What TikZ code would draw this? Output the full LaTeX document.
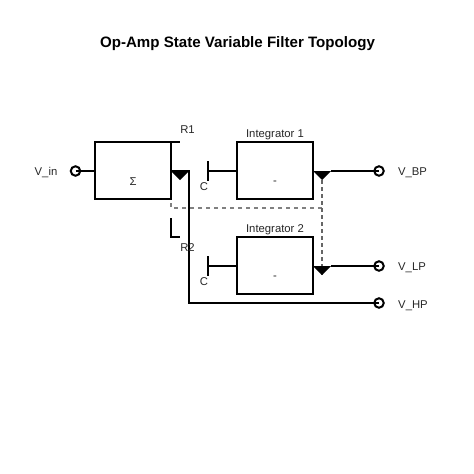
\documentclass[tikz,border=0pt]{standalone}
\usepackage{fontspec}
\setmainfont{Liberation Sans}
\begin{document}
\begin{tikzpicture}[x=1pt,y=-1pt,
  block/.style={draw=black,line width=2.1pt,fill=white,minimum width=76pt,minimum height=57pt,inner sep=0pt,outer sep=0pt,anchor=north west},
  wire/.style={draw=black,line width=2.1pt},
  fb/.style={draw=black!50,line width=1.6pt,dash pattern=on 4pt off 4pt},
  fbdark/.style={draw=black!60,line width=1.6pt,dash pattern=on 4pt off 3pt},
  tri/.style={fill=black,draw=none},
  term/.style={circle,draw=black,line width=2pt,minimum size=9.5pt,inner sep=0pt,outer sep=0pt,fill=none},
  lab/.style={font=\fontsize{11.3pt}{13pt}\selectfont,text=black!85,inner sep=0pt},
  ttl/.style={font=\bfseries\fontsize{15.1pt}{17pt}\selectfont,text=black,inner sep=0pt}]
\useasboundingbox (0,0) rectangle (474,474);
\node[ttl] (title) at (237.5,44) {Op-Amp State Variable Filter Topology};

% blocks
\node[block] (sum) at (95,142) {};
\node[block] (int1) at (237,142) {};
\node[block] (int2) at (237,237) {};
\node[lab] (sumsym) at (133,181.5) {Σ};
\node[lab] (m1) at (275,182.5) {-};
\node[lab] (m2) at (275,277.5) {-};
\node[lab] (i1lab) at (275,135) {Integrator 1};
\node[lab] (i2lab) at (275,230) {Integrator 2};

% terminals
\node[term] (vin) at (75.5,171) {};
\node[term] (vbp) at (379,171) {};
\node[term] (vlp) at (379,266) {};
\node[term] (vhp) at (379,303) {};
\node[lab] (vinlab) at (46,173) {V\_in};
\node[lab] (vbplab) at (412.5,173) {V\_BP};
\node[lab] (vlplab) at (412,268) {V\_LP};
\node[lab] (vhplab) at (413,306) {V\_HP};

% named points
\coordinate (sumtr) at (171,142);
\coordinate (r1end) at (180,142);
\coordinate (o0a) at (171,171);
\coordinate (o0b) at (189,171);
\coordinate (o0t) at (180,180);
\coordinate (o1a) at (313,171);
\coordinate (o1b) at (331,171);
\coordinate (o1t) at (322,180);
\coordinate (o2a) at (313,266);
\coordinate (o2b) at (331,266);
\coordinate (o2t) at (322,275);
\coordinate (c1) at (208,171);
\coordinate (c1t) at (208,161);
\coordinate (c1b) at (208,181);
\coordinate (c2) at (208,266);
\coordinate (c2t) at (208,256);
\coordinate (c2b) at (208,276);
\coordinate (fbl) at (171,208);
\coordinate (fbu) at (171,203);
\coordinate (fbr) at (322,208);
\coordinate (r2a) at (171,218);
\coordinate (r2b) at (171,237);
\coordinate (r2c) at (180,237);
\coordinate (hpc) at (189,303);

% feedback
\draw[fb] (fbu) -- (fbl) -- (fbr);
\draw[fbdark] (o1t) -- (o2t);

% wires
\draw[wire] (vin.center) -- (vin -| sum.west);
\draw[wire] (sumtr) -- (r1end);
\draw[wire] (sumtr) -- (o0a);
\draw[wire] (r2a) -- (r2b) -- (r2c);
\draw[wire] (o0a) -- (o0b) -- (hpc) -- (vhp.center);
\draw[wire] (c1t) -- (c1b);
\draw[wire] (c1) -- (c1 -| int1.west);
\draw[wire] (c2t) -- (c2b);
\draw[wire] (c2) -- (c2 -| int2.west);
\draw[wire] (o1b) -- (vbp.center);
\draw[wire] (o2b) -- (vlp.center);

% triangles
\fill[tri] (o0a) -- (o0b) -- (o0t) -- cycle;
\fill[tri] (o1a) -- (o1b) -- (o1t) -- cycle;
\fill[tri] (o2a) -- (o2b) -- (o2t) -- cycle;

% component labels
\node[lab] (r1lab) at (187.5,129.5) {R1};
\node[lab] (r2lab) at (187.5,247.5) {R2};
\node[lab] (c1lab) at (204,186.5) {C};
\node[lab] (c2lab) at (204,281.5) {C};
\end{tikzpicture}
\end{document}
